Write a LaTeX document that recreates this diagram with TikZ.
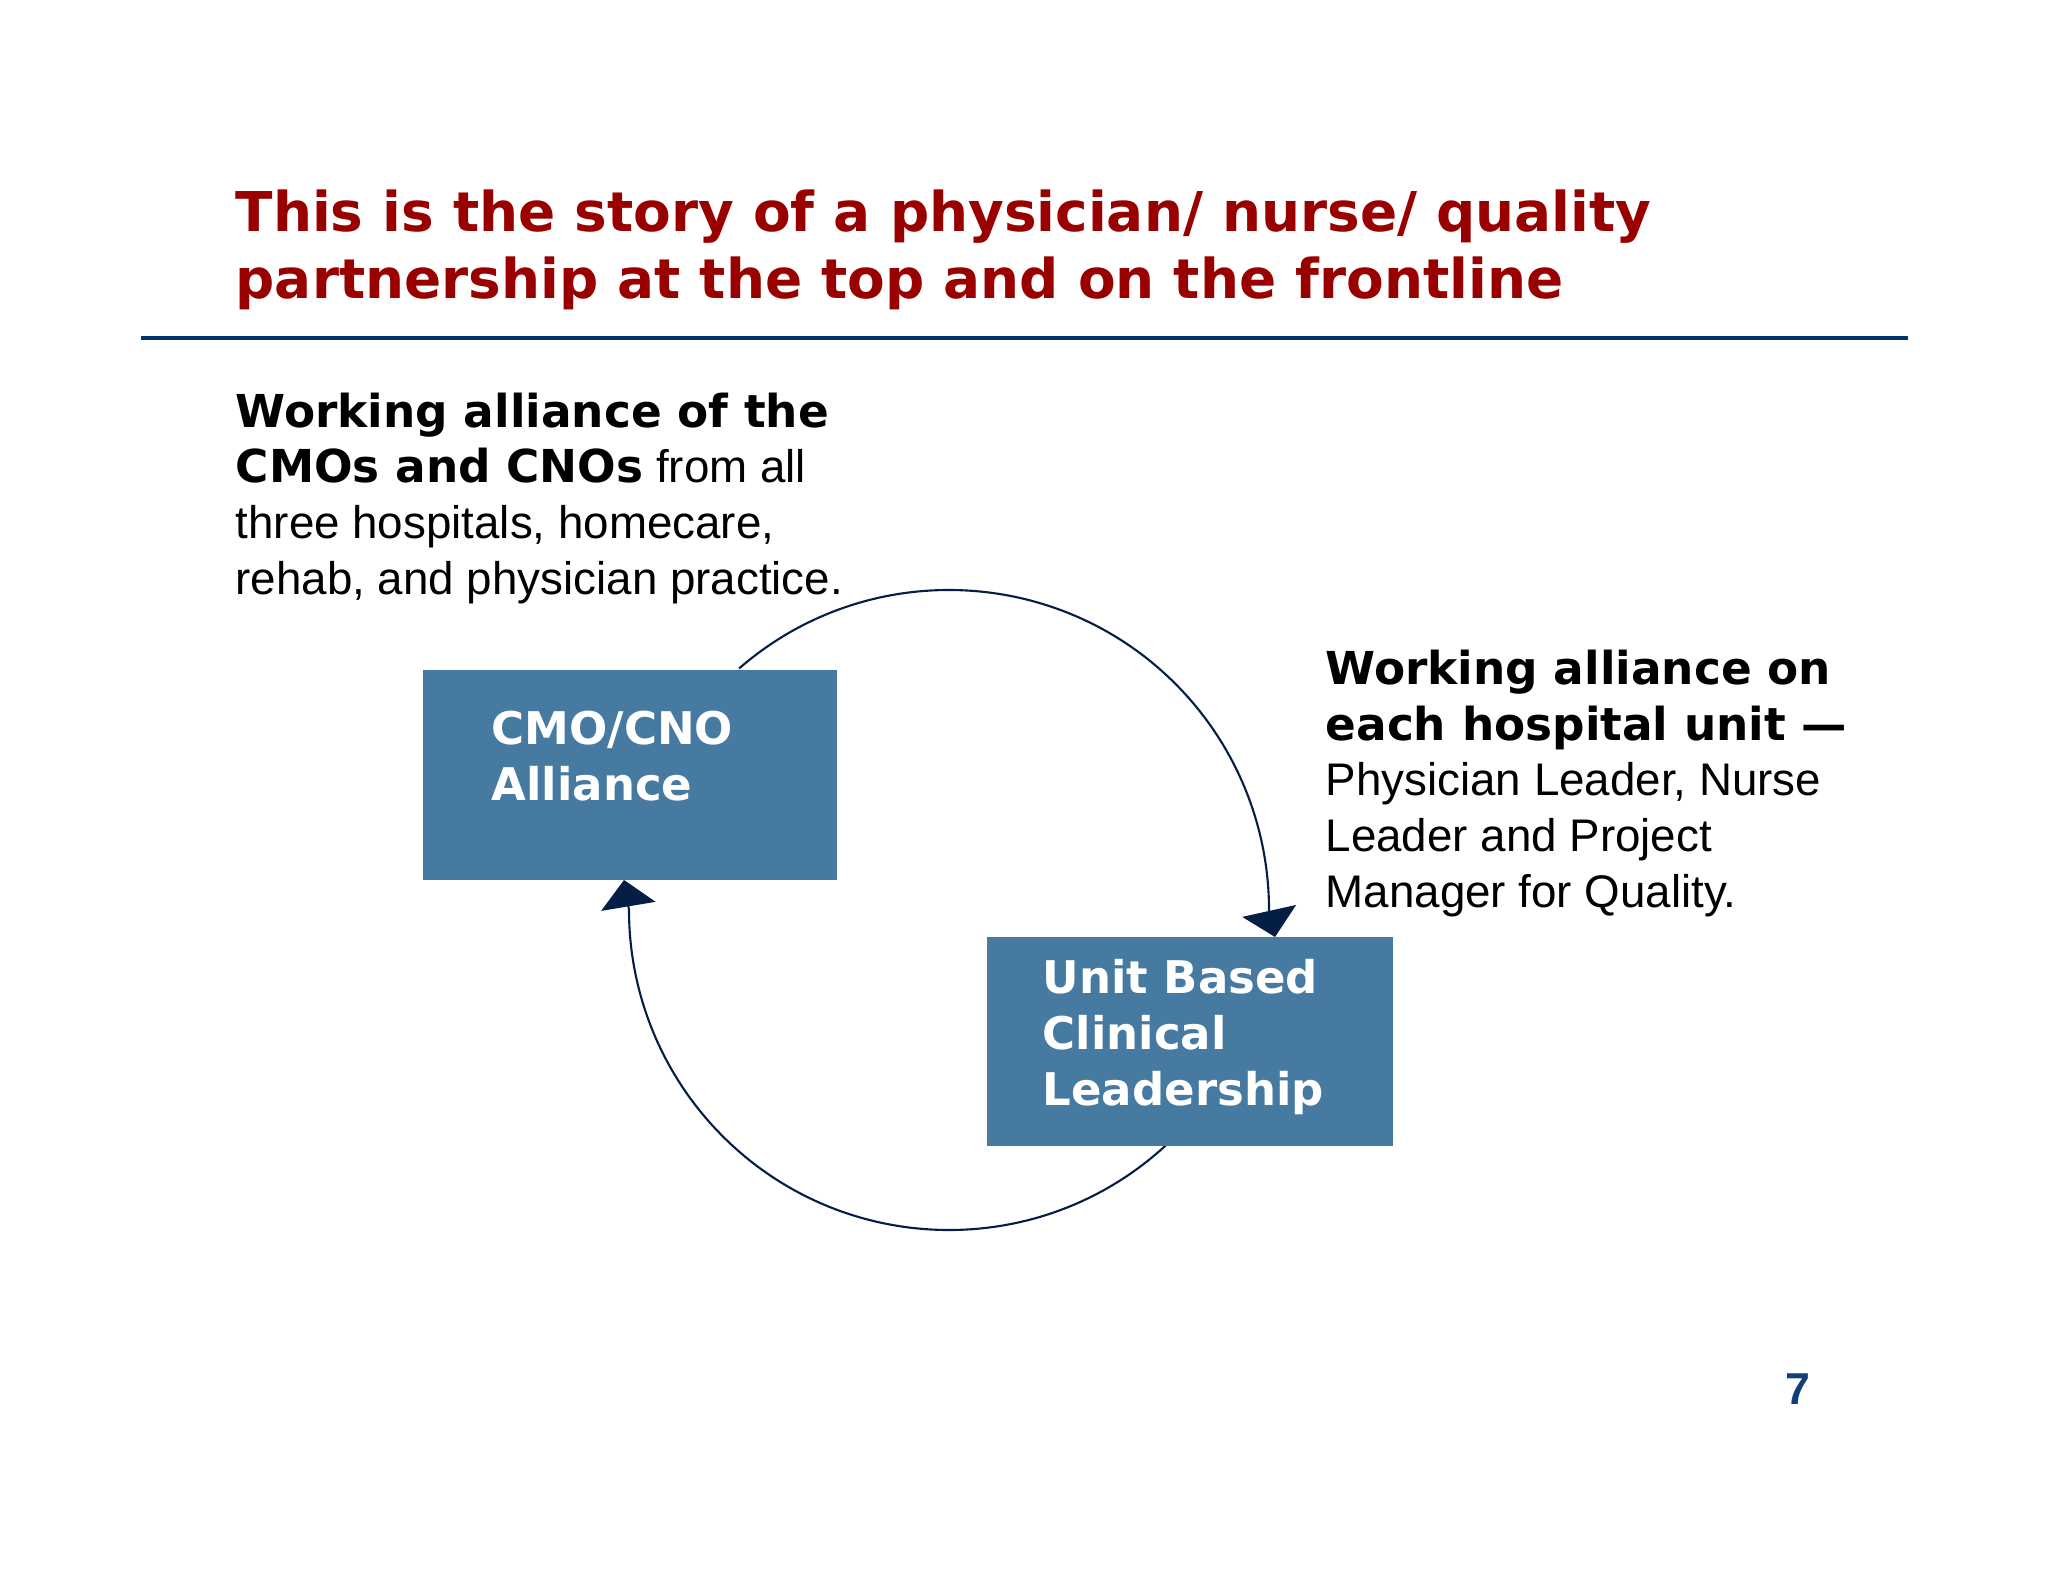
\documentclass[tikz,border=0pt]{standalone}
\usepackage{fontspec}
\setmainfont{Liberation Sans}
\newfontfamily\blkfam{DejaVu Sans}
\newcommand\blk{\blkfam\bfseries}
\usetikzlibrary{arrows.meta,calc}
\definecolor{titlered}{RGB}{153,0,0}
\definecolor{rulenavy}{RGB}{0,51,102}
\definecolor{boxblue}{RGB}{70,122,160}
\definecolor{arcnavy}{RGB}{5,30,70}
\definecolor{numblue}{RGB}{18,62,122}
\begin{document}
\begin{tikzpicture}[x=0.01cm,y=-0.01cm,
  txt/.style={anchor=base west,inner sep=0pt,align=left,font=\fontsize{13}{15.8}\selectfont},
  ttl/.style={anchor=base west,inner sep=0pt,align=left,text=titlered,font=\fontsize{15.6}{18.8}\selectfont\blk},
  blockbox/.style={fill=boxblue,draw=none,inner sep=0pt,anchor=north west},
  boxtxt/.style={anchor=base west,inner sep=0pt,align=left,text=white,font=\fontsize{12.8}{15.9}\selectfont\blk},
  flow/.style={draw=arcnavy,line width=0.6pt,-{Triangle[length=7.6pt,width=15.6pt,fill=arcnavy]}}
]
\useasboundingbox[fill=white] (0,0) rectangle (2048,1582);

% title (anchor at baseline of the last line)
\node[ttl] (title) at (235,298) {This is the story of a physician/ nurse/ quality\\partnership at the top and on the frontline};
\coordinate (rl) at (141,338);
\coordinate (rr) at (1908,338);
\draw[rulenavy,line width=1.3pt] (rl) -- (rr);

% cycle
\coordinate (c) at (949,910);
\coordinate (a1s) at ($(c)+(229:320)$);
\coordinate (a2s) at ($(c)+(47:320)$);
\coordinate (tip1) at (1275,937);
\coordinate (tip2) at (624,880);
\draw[flow] (a1s) arc[start angle=229,end angle=360,radius=320] -- (tip1);
\draw[flow] (a2s) arc[start angle=47,end angle=180,radius=320] -- (tip2);

% boxes
\node[blockbox,minimum width=4.14cm,minimum height=2.10cm] (cmo) at (422,669) {};
\node[boxtxt] (cmotxt) at (491,800) {CMO/CNO\\Alliance};
\node[blockbox,minimum width=4.06cm,minimum height=2.09cm] (unit) at (986,936) {};
\node[boxtxt] (unittxt) at (1042,1105) {Unit Based\\Clinical\\Leadership};

% side texts
\node[txt] (lefttxt) at (235,594) {{\blk\fontsize{12.9}{15.8}\selectfont Working alliance of the}\\{\blk\fontsize{12.9}{15.8}\selectfont CMOs and CNOs} from all\\three hospitals, homecare,\\rehab, and physician practice.};
\node[txt] (righttxt) at (1325,907) {{\blk\fontsize{12.9}{15.8}\selectfont Working alliance on}\\{\blk\fontsize{12.9}{15.8}\selectfont each hospital unit —}\\Physician Leader, Nurse\\Leader and Project\\Manager for Quality.};

% page number
\node[anchor=base west,inner sep=0pt,text=numblue,font=\fontsize{12.7}{15}\selectfont\bfseries] (pnum) at (1785,1404) {7};
\end{tikzpicture}
\end{document}
